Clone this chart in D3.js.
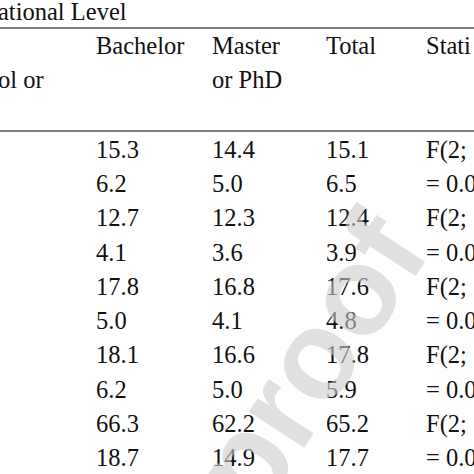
<!DOCTYPE html>
<html><head><meta charset="utf-8">
<script src="https://cdn.jsdelivr.net/npm/d3@7"></script>
<style>body{margin:0;background:#fff}</style>
</head><body><div id="chart"></div>
<script>
const columns = ["Bachelor", "Master", "Total", "Stati"];
const columns2 = ["", "or PhD", "", ""];
const bachelor = [15.3, 6.2, 12.7, 4.1, 17.8, 5.0, 18.1, 6.2, 66.3, 18.7];
const master = [14.4, 5.0, 12.3, 3.6, 16.8, 4.1, 16.6, 5.0, 62.2, 14.9];
const total = [15.1, 6.5, 12.4, 3.9, 17.6, 4.8, 17.8, 5.9, 65.2, 17.7];
const stats = ["F(2;", "= 0.0", "F(2;", "= 0.0", "F(2;", "= 0.0", "F(2;", "= 0.0", "F(2;", "= 0.0"];

const width = 474, height = 474;
const svg = d3.select("#chart").append("svg")
    .attr("width", width).attr("height", height)
    .style("font-family", "'Liberation Serif', 'DejaVu Serif', serif")
    .style("font-size", "24.5px").style("fill", "#111");

const xs = [96, 212, 326, 426];
const y = d3.scaleLinear().domain([0, 9]).range([158, 466]);

svg.append("text").attr("x", -2).attr("y", 20).text("ational Level");
[28, 131].forEach(v => svg.append("line").attr("x1", 0).attr("x2", width).attr("y1", v).attr("y2", v)
    .attr("stroke", "#555").attr("stroke-width", 1.3));

columns.forEach((c, i) => svg.append("text").attr("x", xs[i]).attr("y", 54).text(c));
columns2.forEach((c, i) => svg.append("text").attr("x", xs[i]).attr("y", 88).text(c));
svg.append("text").attr("x", -2).attr("y", 88).text("ol or");

const rows = d3.range(bachelor.length).map(i => [bachelor[i].toFixed(1), master[i].toFixed(1), total[i].toFixed(1), stats[i]]);
svg.selectAll(".row").data(rows).enter().append("g")
    .attr("transform", (d, i) => `translate(0,${y(i)})`)
    .selectAll("text").data(d => d).enter().append("text")
    .attr("x", (d, j) => xs[j]).text(d => d);

svg.append("text")
    .attr("transform", "translate(345,385) rotate(-57)")
    .attr("text-anchor", "middle")
    .attr("font-family", "'Liberation Sans', sans-serif")
    .attr("font-weight", "bold")
    .attr("font-size", 125)
    .style("fill", "#ccc").attr("fill-opacity", 0.6)
    .text("proof");
</script></body></html>
